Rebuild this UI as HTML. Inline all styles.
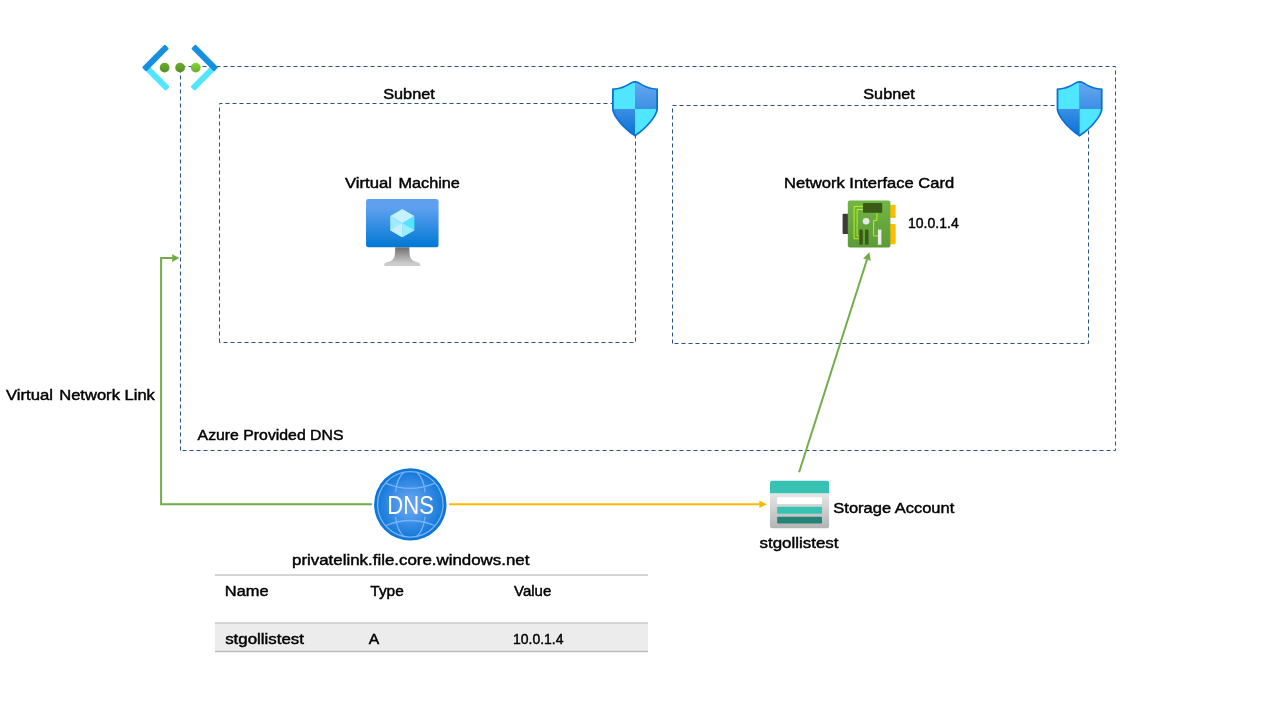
<!DOCTYPE html>
<html><head><meta charset="utf-8">
<style>
html,body{margin:0;padding:0;background:#fff;width:1280px;height:720px;overflow:hidden}
svg{display:block;will-change:transform}
text{font-family:"Liberation Sans",sans-serif;font-size:15.2px;fill:#000;stroke:#000;stroke-width:0.45px}
</style></head>
<body>
<svg width="1280" height="720" viewBox="0 0 1280 720">
<defs>
 <linearGradient id="vmA" x1="8.88" y1="12.21" x2="8.88" y2="0.21" gradientUnits="userSpaceOnUse"><stop offset="0" stop-color="#0078d4"/><stop offset="0.82" stop-color="#5ea0ef"/></linearGradient>
 <linearGradient id="vmB" x1="8.88" y1="16.84" x2="8.88" y2="12.21" gradientUnits="userSpaceOnUse"><stop offset="0.15" stop-color="#ccc"/><stop offset="1" stop-color="#707070"/></linearGradient>
 <linearGradient id="stA" x1="9" y1="15.83" x2="9" y2="5.79" gradientUnits="userSpaceOnUse"><stop offset="0" stop-color="#b3b3b3"/><stop offset="0.26" stop-color="#c1c1c1"/><stop offset="1" stop-color="#e6e6e6"/></linearGradient>
 <linearGradient id="shTR" x1="0" y1="0" x2="0" y2="1"><stop offset="0" stop-color="#64a8f0"/><stop offset="1" stop-color="#3d8fe4"/></linearGradient>
 <linearGradient id="shBL" x1="0" y1="0" x2="0" y2="1"><stop offset="0" stop-color="#3a8ee4"/><stop offset="1" stop-color="#0a73d8"/></linearGradient>
 <linearGradient id="nicG" x1="0" y1="0" x2="0" y2="1"><stop offset="0" stop-color="#72b644"/><stop offset="1" stop-color="#5c9a37"/></linearGradient>
 <radialGradient id="dnsG" cx="0.5" cy="0.5" r="0.5"><stop offset="0.2" stop-color="#5ea0ef"/><stop offset="1" stop-color="#0a74d6"/></radialGradient>
 <linearGradient id="dotG" x1="0" y1="0" x2="0" y2="1"><stop offset="0" stop-color="#6aae2c"/><stop offset="1" stop-color="#568f22"/></linearGradient>
 <linearGradient id="dotG3" x1="0" y1="0" x2="0" y2="1"><stop offset="0" stop-color="#86d633"/><stop offset="1" stop-color="#6aae2c"/></linearGradient>
 <g id="shield">
  <path d="M0,0 C-5,0 -8.5,6.5 -23,7.5 L-23,28 C-23,34 -13,47.5 0,55.7 C13,47.5 23,34 23,28 L23,7.5 C8.5,6.5 5,0 0,0 Z" fill="#0a72d4"/>
  <path d="M0,1.8 C-5,1.8 -8.5,8 -21.2,9 L-21.2,28 L0,28 Z" fill="#50e6ff"/>
  <path d="M0,1.8 C5,1.8 8.5,8 21.2,9 L21.2,28 L0,28 Z" fill="url(#shTR)"/>
  <path d="M-21.2,28 C-21.2,33.8 -11.8,46 0,53.6 L0,28 Z" fill="url(#shBL)"/>
  <path d="M21.2,28 C21.2,33.8 11.8,46 0,53.6 L0,28 Z" fill="#50e6ff"/>
 </g>
</defs>

<!-- dashed boxes -->
<g fill="none" stroke="#2b4f93" stroke-width="1" stroke-dasharray="4 3">
 <path d="M180.5,66.5 H1115.5" stroke-dashoffset="6"/>
 <path d="M1115.5,66.5 V450.5" stroke-dashoffset="3"/>
 <path d="M1115.5,450.5 H180.5" stroke-dashoffset="2"/>
 <path d="M180.5,450.5 V66.5" stroke-dashoffset="0"/>
 <path d="M219.5,103.5 H635.5" stroke-dashoffset="1"/>
 <path d="M635.5,103.5 V342.5" stroke-dashoffset="4"/>
 <path d="M635.5,342.5 H219.5" stroke-dashoffset="5"/>
 <path d="M219.5,342.5 V103.5" stroke-dashoffset="0"/>
 <path d="M672.5,105.5 H1088.5" stroke-dashoffset="0"/>
 <path d="M1088.5,105.5 V343.5" stroke-dashoffset="3"/>
 <path d="M1088.5,343.5 H672.5" stroke-dashoffset="3"/>
 <path d="M672.5,343.5 V105.5" stroke-dashoffset="0"/>
</g>

<!-- shields -->
<use href="#shield" x="635" y="81"/>
<use href="#shield" x="1079.6" y="81"/>

<!-- vnet icon -->
<g>
 <g transform="translate(146.2,67.3) rotate(45)"><rect x="1" y="-3.05" width="29.3" height="6.1" rx="1.3" fill="#50e6ff"/></g>
 <g transform="translate(146.2,67.3) rotate(-45)"><rect x="-3.05" y="-3.05" width="32.4" height="6.1" rx="1.3" fill="#1490df"/></g>
 <g transform="translate(214.0,67.3) scale(-1,1) rotate(45)"><rect x="1" y="-3.05" width="29.3" height="6.1" rx="1.3" fill="#50e6ff"/></g>
 <g transform="translate(214.0,67.3) scale(-1,1) rotate(-45)"><rect x="-3.05" y="-3.05" width="32.4" height="6.1" rx="1.3" fill="#1490df"/></g>
 <circle cx="164.6" cy="67.6" r="4.9" fill="url(#dotG)"/>
 <circle cx="180.1" cy="67.6" r="4.9" fill="url(#dotG)"/>
 <circle cx="195.75" cy="67.6" r="4.9" fill="url(#dotG3)"/>
</g>

<!-- VM icon -->
<g transform="translate(366.5,198.15) scale(4.03)">
 <rect x="-0.12" y="0.21" width="18" height="12" rx="0.6" fill="url(#vmA)"/>
 <polygon points="11.88 4.46 11.88 7.95 8.88 9.71 8.88 6.21 11.88 4.46" fill="#50e6ff"/>
 <polygon points="11.88 4.46 8.88 6.22 5.88 4.45 8.88 2.71 11.88 4.46" fill="#c3f1ff"/>
 <polygon points="8.88 6.22 8.88 9.71 5.88 7.95 5.88 4.45 8.88 6.22" fill="#9cebff"/>
 <polygon points="5.88 7.95 8.88 6.21 8.88 9.71 5.88 7.95" fill="#c3f1ff"/>
 <polygon points="11.88 7.95 8.88 6.21 8.88 9.71 11.88 7.95" fill="#9cebff"/>
 <path d="M12.49,15.84c-1.78-.28-1.85-1.56-1.85-3.63H7.11c0,2.07-.06,3.35-1.84,3.63a1,1,0,0,0-.89,1h9A1,1,0,0,0,12.49,15.84Z" fill="url(#vmB)"/>
</g>

<!-- NIC icon -->
<g>
 <rect x="842.6" y="213.8" width="6" height="20.2" rx="1" fill="#3b3b3b"/>
 <rect x="888.5" y="204.8" width="7.1" height="13.1" rx="1" fill="#ffbd02"/>
 <rect x="888.5" y="223.9" width="7.1" height="20.3" rx="1" fill="#ffbd02"/>
 <rect x="847.8" y="200.6" width="42.6" height="46.8" rx="2" fill="url(#nicG)"/>
 <g fill="none" stroke="#c3f525" stroke-width="0.9">
  <path d="M863,206.4 H854.1 V238.7 H859.3"/>
  <path d="M863,209.5 H857.1 V236 H859.3"/>
  <path d="M876.9,212.8 V220.4 H873.6 V235.9 H877.9"/>
 </g>
 <rect x="863" y="202.9" width="19.2" height="9.9" rx="0.7" fill="#3a5a17"/>
 <circle cx="866.1" cy="221.2" r="3.3" fill="#e8e8e8"/>
 <rect x="859.3" y="229.6" width="3.5" height="15.1" rx="1" fill="#3a5a17"/>
 <rect x="865" y="229.6" width="3.5" height="15.1" rx="1" fill="#3a5a17"/>
 <rect x="877.9" y="229.6" width="3.5" height="15.1" fill="#eeeeee"/>
</g>

<!-- connectors -->
<g fill="none" stroke-width="2">
 <path d="M372,504.2 H161.1 V258 H173" stroke="#70ad47"/>
 <path d="M449,504.2 H760" stroke="#ffb900"/>
 <path d="M799.1,472.3 L867,259.5" stroke="#70ad47"/>
</g>
<polygon points="179.4,258 172.2,254.2 172.2,261.9" fill="#70ad47"/>
<polygon points="767,504.2 759.4,500.4 759.4,508" fill="#ffb900"/>
<polygon points="869.4,252.2 863.1,258.6 870.8,260.8" fill="#70ad47"/>

<!-- DNS icon -->
<g>
 <circle cx="410.3" cy="504.4" r="36.2" fill="url(#dnsG)"/>
 <g fill="none" stroke="#78b4f7" stroke-width="1.25">
  <circle cx="410.3" cy="504.4" r="32.7"/>
  <path d="M386.2,483.3 Q410.3,493.3 434.4,483.3"/>
  <path d="M386.2,525.5 Q410.3,515.5 434.4,525.5"/>
  <path d="M403.8,472.6 C399.5,476 396.5,483 395.6,492"/>
  <path d="M416.8,472.6 C421.1,476 424.1,483 425,492"/>
  <path d="M403.8,536.2 C399.5,532.8 396.5,525.8 395.6,516.8"/>
  <path d="M416.8,536.2 C421.1,532.8 424.1,525.8 425,516.8"/>
 </g>
 <text x="387.3" y="513.6" textLength="46.6" lengthAdjust="spacingAndGlyphs" style="font-size:25.4px;fill:#fff;stroke:none">DNS</text>
</g>

<!-- Storage icon -->
<g transform="translate(768.26,473.2) scale(3.476)">
 <path d="M.5,5.79h17a0,0,0,0,1,0,0v9.48a.57.57,0,0,1-.57.57H1.07A.57.57,0,0,1,.5,15.27V5.79A0,0,0,0,1,.5,5.79Z" fill="url(#stA)"/>
 <path d="M1.07,2.17H16.93a.57.57,0,0,1,.57.57V5.79a0,0,0,0,1,0,0H.5a0,0,0,0,1,0,0v-3A.57.57,0,0,1,1.07,2.17Z" fill="#37c2b1"/>
 <path d="M2.81,6.89H15.18a.27.27,0,0,1,.26.27v1.4a.27.27,0,0,1-.26.27H2.81a.27.27,0,0,1-.26-.27V7.16A.27.27,0,0,1,2.81,6.89Z" fill="#fff"/>
 <path d="M2.82,9.68H15.19a.27.27,0,0,1,.26.27v1.41a.27.27,0,0,1-.26.27H2.82a.27.27,0,0,1-.26-.27V10A.27.27,0,0,1,2.82,9.68Z" fill="#37c2b1"/>
 <path d="M2.82,12.5H15.19a.27.27,0,0,1,.26.27v1.41a.27.27,0,0,1-.26.27H2.82a.27.27,0,0,1-.26-.27V12.77A.27.27,0,0,1,2.82,12.5Z" fill="#258277"/>
</g>

<!-- table -->
<rect x="215" y="623" width="433" height="28.4" fill="#ececec"/>
<line x1="215" y1="575" x2="648" y2="575" stroke="#c8c8c8" stroke-width="1.5"/>
<line x1="215" y1="623" x2="648" y2="623" stroke="#c8c8c8" stroke-width="1.5"/>
<line x1="215" y1="651.5" x2="648" y2="651.5" stroke="#bcbcbc" stroke-width="1.5"/>

<!-- texts -->
<text x="383.2" y="98.9" textLength="51.6" lengthAdjust="spacingAndGlyphs">Subnet</text>
<text x="863.3" y="98.6" textLength="51.4" lengthAdjust="spacingAndGlyphs">Subnet</text>
<text x="345" y="188" textLength="47" lengthAdjust="spacingAndGlyphs">Virtual</text><text x="398.4" y="188" textLength="61.5" lengthAdjust="spacingAndGlyphs">Machine</text>
<text x="784" y="188" textLength="170.2" lengthAdjust="spacingAndGlyphs">Network Interface Card</text>
<text x="908" y="228.3" textLength="50.7" lengthAdjust="spacingAndGlyphs">10.0.1.4</text>
<text x="6" y="399.8" textLength="47" lengthAdjust="spacingAndGlyphs">Virtual</text><text x="59.2" y="399.8" textLength="95.7" lengthAdjust="spacingAndGlyphs">Network Link</text>
<text x="197.6" y="439.7" textLength="145.9" lengthAdjust="spacingAndGlyphs">Azure Provided DNS</text>
<text x="833.3" y="512.8" textLength="121" lengthAdjust="spacingAndGlyphs">Storage Account</text>
<text x="759.5" y="547.8" textLength="79" lengthAdjust="spacingAndGlyphs">stgollistest</text>
<text x="292" y="565.2" textLength="237.4" lengthAdjust="spacingAndGlyphs">privatelink.file.core.windows.net</text>
<text x="224.8" y="596.3" textLength="43.7" lengthAdjust="spacingAndGlyphs">Name</text>
<text x="370.3" y="596.3" textLength="33.5" lengthAdjust="spacingAndGlyphs">Type</text>
<text x="514" y="596.3" textLength="37.3" lengthAdjust="spacingAndGlyphs">Value</text>
<text x="225.2" y="644" textLength="78.7" lengthAdjust="spacingAndGlyphs">stgollistest</text>
<text x="368.8" y="644" textLength="10.5" lengthAdjust="spacingAndGlyphs">A</text>
<text x="513" y="643.8" textLength="50.5" lengthAdjust="spacingAndGlyphs">10.0.1.4</text>
</svg>
</body></html>
